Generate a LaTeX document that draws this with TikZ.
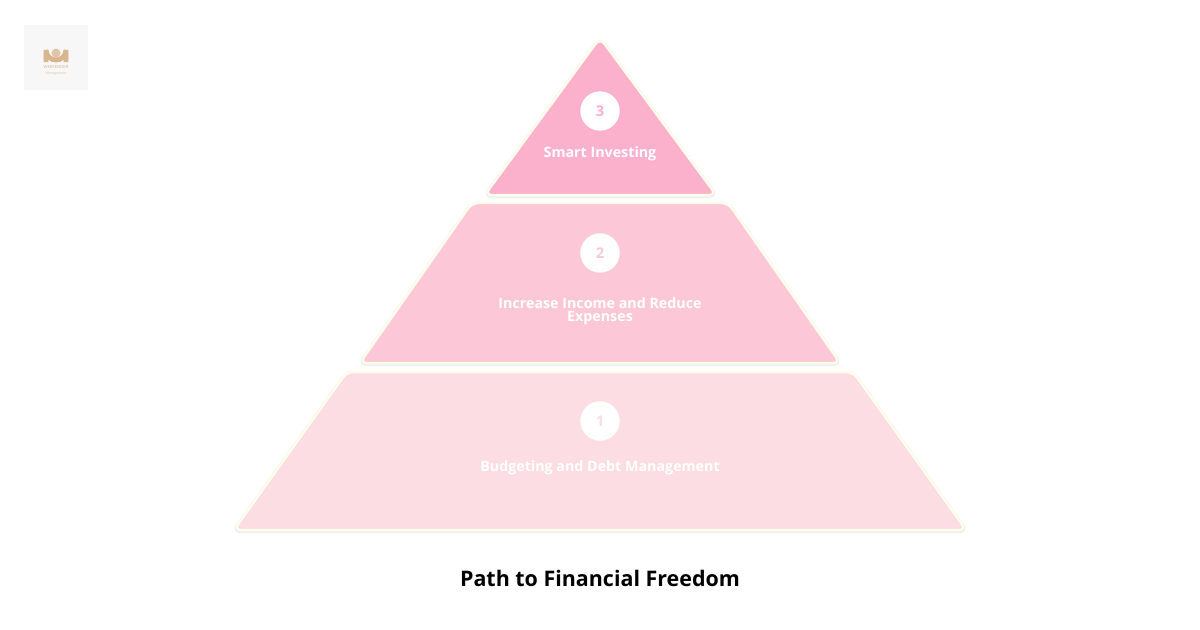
\documentclass[tikz,border=0pt]{standalone}
\usepackage{fontspec}
\setmainfont{Open Sans}
\begin{document}
\begin{tikzpicture}[x=0.05cm,y=-0.05cm,
  tier/.style={draw=white!92!yellow,line width=3pt,rounded corners=10pt},
  shad/.style={draw=black!6,line width=6pt,rounded corners=10pt},
  num/.style={circle,fill=white,minimum size=56pt,inner sep=0pt,font=\bfseries\fontsize{21}{24}\selectfont},
  lab/.style={text=white,font=\bfseries\fontsize{20.3}{23}\selectfont,align=center}]
\definecolor{c3}{HTML}{FBB0CB}
\definecolor{c2}{HTML}{FCC8D8}
\definecolor{c1}{HTML}{FDDDE4}
\definecolor{tan}{HTML}{D9B590}
\useasboundingbox[fill=white] (0,0) rectangle (1200,630);
% logo
\fill[black!3] (24,25) rectangle (88,90);
\draw[tan,line width=7pt] (46,62) -- (46,50) arc[start angle=180,end angle=0,radius=10] -- (66,62);
\fill[tan!80] (56,53) circle (4.5);
\node[text=tan,font=\fontsize{6}{6}\selectfont] (logo) at (56,67) {WEEKENDER};
\node[text=tan!80,font=\itshape\fontsize{5}{5}\selectfont] (logo2) at (56,74) {Management};
% shadows
\draw[shad] (234,531) -- (347,373) -- (853,373) -- (966,531) -- cycle;
\draw[shad] (360,364) -- (472,204) -- (728,204) -- (840,364) -- cycle;
\draw[shad] (485,196) -- (600,39) -- (716,196) -- cycle;
% tiers
\filldraw[tier,fill=c1] (234,530) -- (347,372) -- (853,372) -- (966,530) -- cycle;
\filldraw[tier,fill=c2] (360,363) -- (472,203) -- (728,203) -- (840,363) -- cycle;
\filldraw[tier,fill=c3] (485,195) -- (600,38) -- (716,195) -- cycle;
\node[num,text=c3] (n3) at (600,111) {3};
\node[num,text=c2] (n2) at (600,253) {2};
\node[num,text=c1] (n1) at (600,421) {1};
\node[lab] (l3) at (600,154) {Smart Investing};
\node[lab] (l2) at (600,311) {Increase Income and Reduce\\[-4pt]Expenses};
\node[lab] (l1) at (600,468) {Budgeting and Debt Management};
\node[font=\bfseries\fontsize{30.5}{34}\selectfont] (title) at (600,578) {Path to Financial Freedom};
\end{tikzpicture}
\end{document}
